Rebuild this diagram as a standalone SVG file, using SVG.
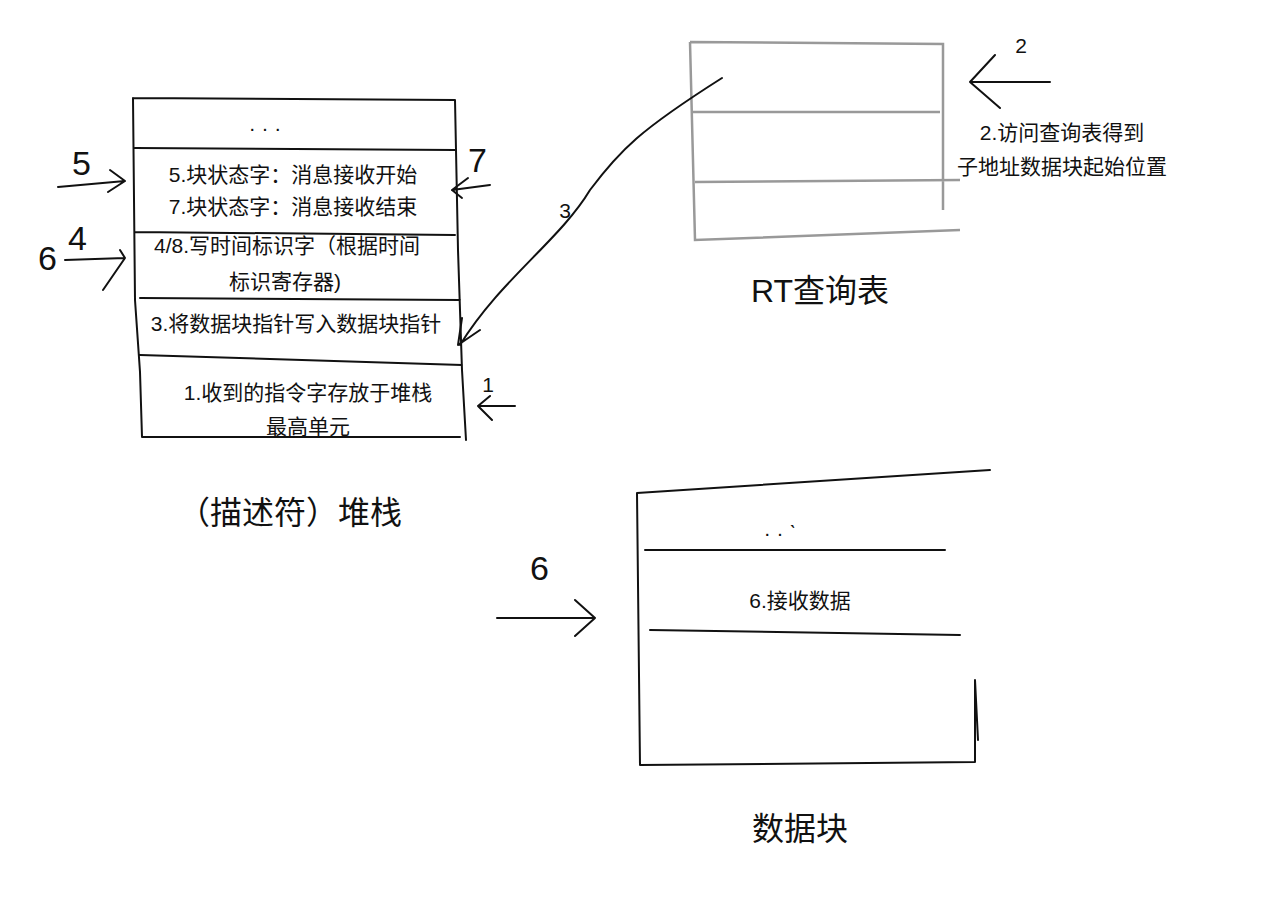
<svg xmlns="http://www.w3.org/2000/svg" width="1268" height="903" viewBox="0 0 1268 903">
<style>
.l{fill:none;stroke:#111;stroke-width:2;stroke-linecap:round;stroke-linejoin:round}
.g{fill:none;stroke:#999;stroke-width:2.5}
.t{font-family:"Liberation Sans","Noto Sans CJK SC",sans-serif;font-size:21px;fill:#111;text-anchor:middle}
.b{font-family:"Liberation Sans","Noto Sans CJK SC",sans-serif;font-size:32px;fill:#111;text-anchor:middle}
.h{font-family:"Liberation Sans",sans-serif;font-size:34px;fill:#111}
</style>
<rect width="1268" height="903" fill="#fff"/>
<g id="stack">
<path class="l" d="M133,98 L455,100 L458,250 L462,370 L466,440 M133,98 L135,300 L140,372 L142,437 L460,437 M135,148 L455,150 M135,232 L455,235 M140,298 L460,300 M140,355 L462,365"/>
<text class="t" x="265" y="135">· · ·</text>
<text class="t" x="293" y="182">5.块状态字：消息接收开始</text>
<text class="t" x="293" y="214">7.块状态字：消息接收结束</text>
<text class="t" x="287" y="253">4/8.写时间标识字（根据时间</text>
<text class="t" x="285" y="289">标识寄存器)</text>
<text class="t" x="296" y="331">3.将数据块指针写入数据块指针</text>
<text class="t" x="308" y="400">1.收到的指令字存放于堆栈</text>
<text class="t" x="308" y="434">最高单元</text>
<text class="b" x="290" y="524">（描述符）堆栈</text>
</g>
<g id="rt">
<path class="g" d="M690,42 L943,44 L943,210 M690,42 L695,240 L960,230 M693,112 L940,112 M695,182 L960,180"/>
<text class="b" x="820" y="302">RT查询表</text>
<text class="t" x="1062" y="140">2.访问查询表得到</text>
<text class="t" x="1062" y="174">子地址数据块起始位置</text>
</g>
<g id="datablock">
<path class="l" d="M637,493 L990,470 M637,493 L640,765 L975,762 L975,680 L978,740 M645,550 L945,550 M650,630 L960,635"/>
<text class="t" x="780" y="540">· · ˋ</text>
<text class="t" x="800" y="608">6.接收数据</text>
<text class="b" x="800" y="840">数据块</text>
</g>
<g id="connectors">
<path class="l" d="M722,78 C640,130 620,150 590,190 C560,240 500,280 460,345 M458,345 L462,318 M458,345 L480,330"/>
<text class="t" x="565" y="218">3</text>
<path class="l" d="M1050,82 L970,82 M995,55 L970,82 L1000,108"/>
<text class="t" x="1021" y="53">2</text>
<path class="l" d="M58,187 L125,181 M110,170 L125,181 L108,192"/>
<text class="h" x="72" y="175">5</text>
<path class="l" d="M65,260 L125,258 M120,250 L125,258 L103,290"/>
<text class="h" x="38" y="270">6</text><text class="h" x="68" y="250">4</text>
<path class="l" d="M490,185 L452,190 M468,178 L452,190 L462,198"/>
<text class="h" x="468" y="172">7</text>
<text class="t" x="488" y="392">1</text>
<path class="l" d="M515,406 L478,406 M490,396 L478,406 L492,420"/>
<path class="l" d="M497,618 L595,618 M575,600 L595,618 L575,636"/>
<text class="h" x="530" y="580">6</text>
</g>
</svg>
